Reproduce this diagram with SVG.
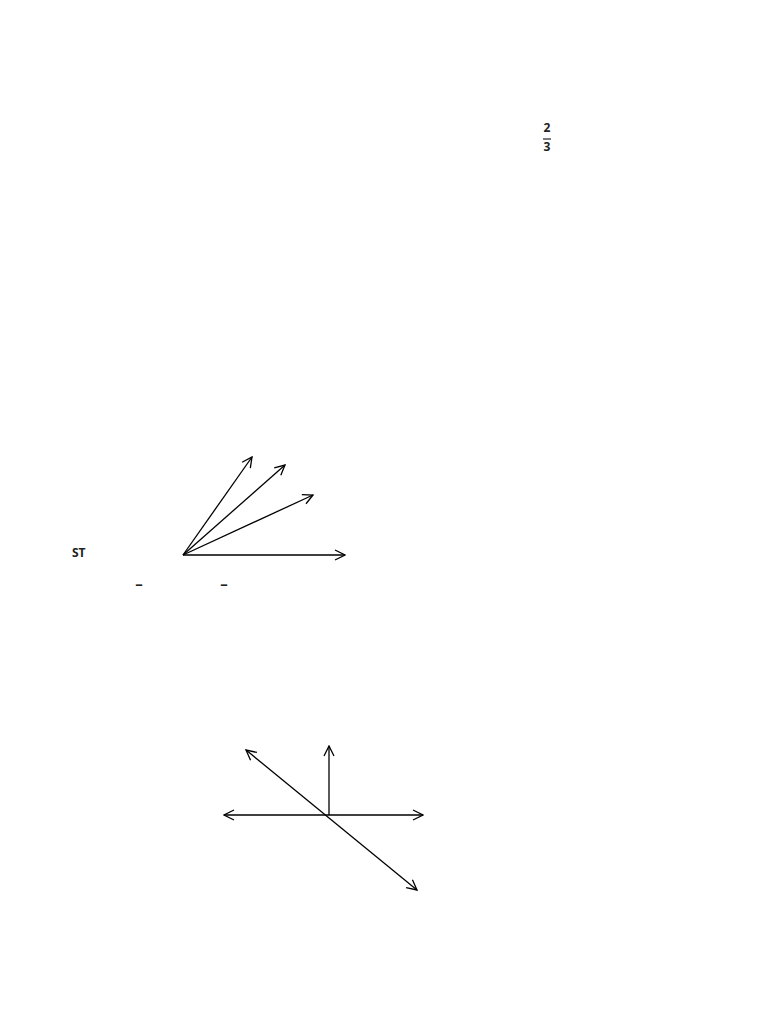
<svg xmlns="http://www.w3.org/2000/svg" width="768" height="1024" viewBox="0 0 768 1024">
<style>
.ln{stroke:#000;stroke-width:1.3;fill:none;marker-end:url(#ah)}
.both{marker-start:url(#ahs)}
.t{font-family:"Open Sans","DejaVu Sans",sans-serif;font-weight:bold;font-size:12px;fill:#222}
.d{font-family:"Open Sans","DejaVu Sans",sans-serif;font-weight:bold;font-size:15px;fill:#222}
</style>
<defs>
<marker id="ah" viewBox="0 0 12 12" refX="11" refY="6" markerWidth="12" markerHeight="12" markerUnits="userSpaceOnUse" orient="auto">
<path d="M1,1 L11,6 L1,11" fill="none" stroke="#000" stroke-width="1.3"/>
</marker>
<marker id="ahs" viewBox="0 0 12 12" refX="1" refY="6" markerWidth="12" markerHeight="12" markerUnits="userSpaceOnUse" orient="auto">
<path d="M11,1 L1,6 L11,11" fill="none" stroke="#000" stroke-width="1.3"/>
</marker>
</defs>
<g id="fraction">
<text class="t" x="547" y="132" text-anchor="middle">2</text>
<line x1="543" y1="139" x2="551" y2="139" stroke="#222" stroke-width="1.2"/>
<text class="t" x="547" y="151" text-anchor="middle">3</text>
</g>
<g id="labels">
<text class="t" x="72" y="557">ST</text>
<text class="d" x="139" y="589" text-anchor="middle">–</text>
<text class="d" x="224" y="589" text-anchor="middle">–</text>
</g>
<g id="connectors">
<line class="ln" x1="183" y1="555" x2="252" y2="457"/>
<line class="ln" x1="183" y1="555" x2="285" y2="465"/>
<line class="ln" x1="183" y1="555" x2="313" y2="495"/>
<line class="ln" x1="183" y1="555" x2="345" y2="555"/>
<line class="ln both" x1="224" y1="815" x2="423" y2="815"/>
<line class="ln" x1="329" y1="815" x2="329" y2="746"/>
<line class="ln both" x1="246" y1="750" x2="417" y2="890"/>
</g>
</svg>
